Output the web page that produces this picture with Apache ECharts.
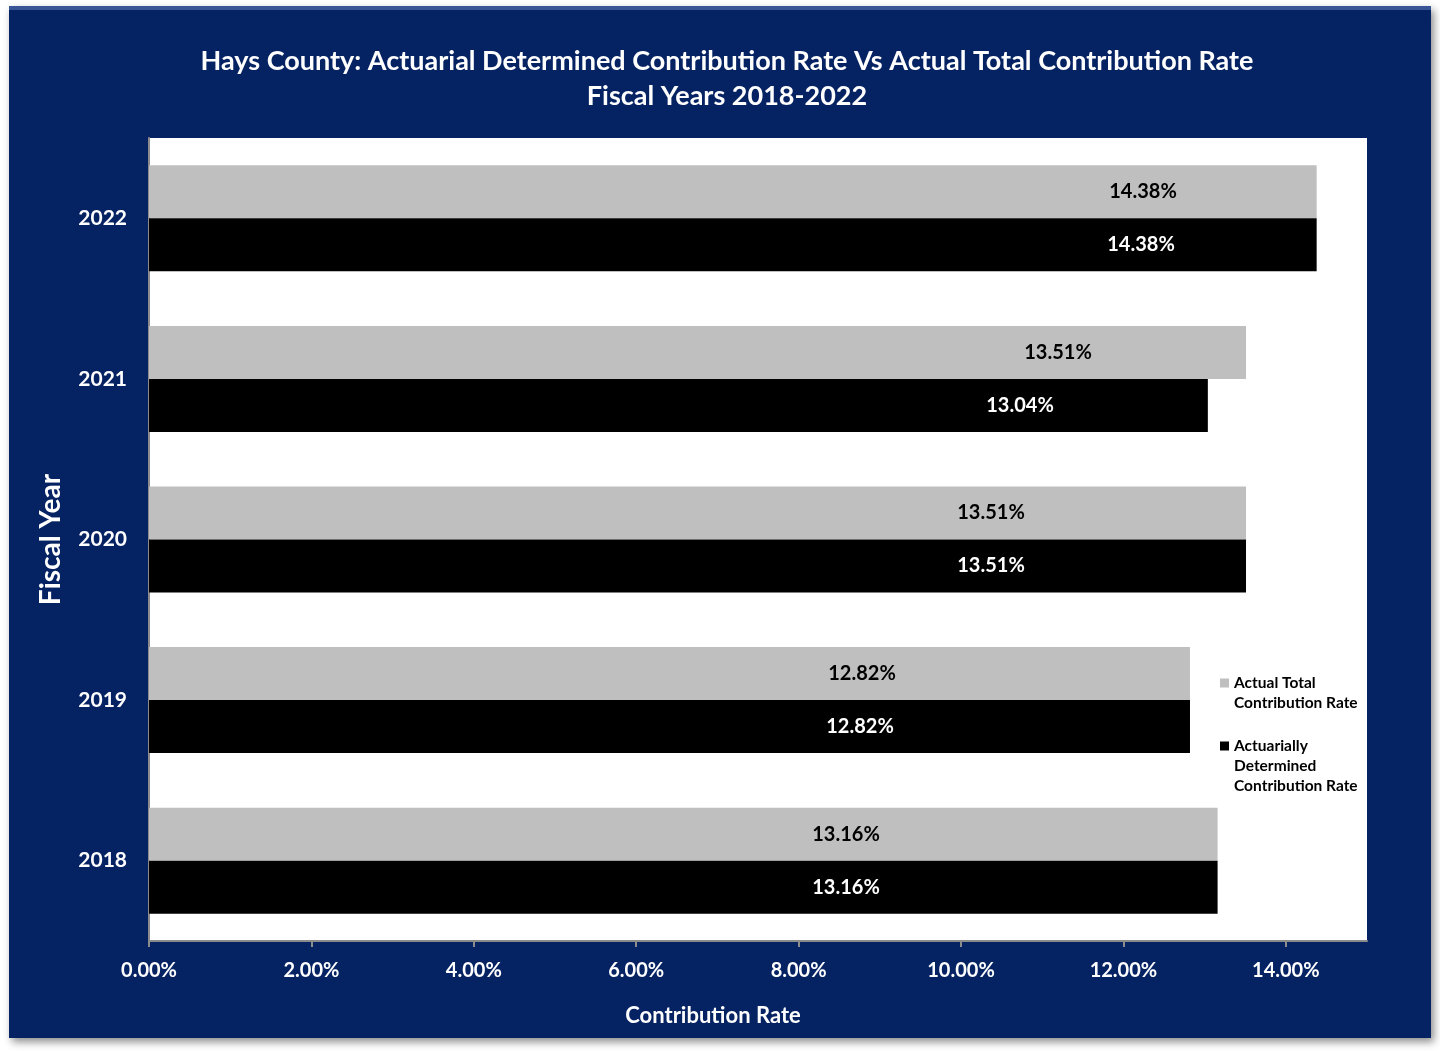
<!DOCTYPE html>
<html>
<head>
<meta charset="utf-8">
<title>Hays County contribution rates</title>
<script src="https://cdn.jsdelivr.net/npm/echarts@6/dist/echarts.min.js"></script>
<style>
  html, body { margin: 0; padding: 0; background: #ffffff; }
  #chart { width: 1440px; height: 1051px; }
</style>
</head>
<body>
<div id="chart"></div>
<script>
// fiscal years, bottom to top
var years = ['2018', '2019', '2020', '2021', '2022'];
// Actual Total Contribution Rate (%)
var actualTotal = [13.16, 12.82, 13.51, 13.51, 14.38];
// Actuarially Determined Contribution Rate (%)
var actuarial = [13.16, 12.82, 13.51, 13.04, 14.38];
var xTicks = [0, 2, 4, 6, 8, 10, 12, 14];

// label spots inside the bars (px from bar start), as placed in the original
var grayLabelAt = [697, 713, 842, 909, 994];
var blackLabelAt = [697, 711, 842, 871, 992];

var font = 'Lato, "Open Sans", sans-serif';
var navy = '#052262';

var grayName = 'Actual Total\nContribution Rate';
var blackName = 'Actuarially\nDetermined\nContribution Rate';

function barData(values, spots, textColor) {
  return values.map(function (v, i) {
    return {
      value: v,
      label: {
        show: true,
        position: [spots[i], '50%'],
        align: 'center',
        verticalAlign: 'middle',
        color: textColor,
        fontFamily: font,
        fontWeight: 'bold',
        fontSize: 20,
        formatter: function (p) { return p.value.toFixed(2) + '%'; }
      }
    };
  });
}

var chart = echarts.init(document.getElementById('chart'));

chart.setOption({
  backgroundColor: '#ffffff',
  animation: false,
  graphic: [{
    type: 'rect',
    z: -10,
    shape: { x: 9, y: 6, width: 1422, height: 1032 },
    style: {
      fill: navy,
      shadowBlur: 8,
      shadowOffsetX: 3,
      shadowOffsetY: 4,
      shadowColor: 'rgba(0,0,0,0.45)'
    }
  }, {
    type: 'rect',
    z: -9,
    shape: { x: 9, y: 6, width: 1422, height: 4 },
    style: { fill: '#3a5596' }
  }],
  title: {
    text: 'Hays County: Actuarial Determined Contribution Rate Vs Actual Total Contribution Rate\nFiscal Years 2018-2022',
    left: 722,
    textAlign: 'center',
    top: 39,
    textStyle: {
      color: '#ffffff',
      fontFamily: font,
      fontWeight: 'bold',
      fontSize: 27,
      lineHeight: 35
    }
  },
  legend: {
    orient: 'vertical',
    left: 1215,
    top: 668,
    itemWidth: 9,
    itemHeight: 60,
    itemGap: 23,
    symbolKeepAspect: true,
    data: [
      { name: grayName, icon: 'path://M0,0H9V9H0Z M0,29L0.01,29' },
      { name: blackName, icon: 'path://M0,0H9V9H0Z M0,49L0.01,49' }
    ],
    textStyle: {
      color: '#000000',
      fontFamily: font,
      fontWeight: 'bold',
      fontSize: 15.5,
      lineHeight: 20
    }
  },
  grid: {
    left: 149,
    right: 73,
    top: 138,
    bottom: 110,
    show: true,
    backgroundColor: '#ffffff',
    borderWidth: 0
  },
  xAxis: {
    type: 'value',
    min: xTicks[0],
    max: 15,
    interval: 2,
    name: 'Contribution Rate',
    nameLocation: 'middle',
    nameGap: 64,
    nameTextStyle: {
      color: '#ffffff', fontFamily: font, fontWeight: 'bold', fontSize: 22,
      padding: [0, 90, 0, 0]
    },
    splitLine: { show: false },
    axisLine: { show: true, lineStyle: { color: '#8c8c8c', width: 2 } },
    axisTick: { show: true, length: 6, lineStyle: { color: '#8c8c8c', width: 2 } },
    axisLabel: {
      color: '#ffffff',
      fontFamily: font,
      fontWeight: 'bold',
      fontSize: 20,
      margin: 20,
      showMaxLabel: false,
      formatter: function (v) { return xTicks.indexOf(v) >= 0 ? v.toFixed(2) + '%' : ''; }
    }
  },
  yAxis: {
    type: 'category',
    data: years,
    name: 'Fiscal Year',
    nameLocation: 'middle',
    nameGap: 84,
    nameTextStyle: { color: '#ffffff', fontFamily: font, fontWeight: 'bold', fontSize: 28 },
    axisLine: { show: true, lineStyle: { color: '#8c8c8c', width: 2 } },
    axisTick: { show: false },
    axisLabel: {
      color: '#ffffff',
      fontFamily: font,
      fontWeight: 'bold',
      fontSize: 21,
      margin: 22
    }
  },
  series: [{
    name: grayName,
    type: 'bar',
    barGap: '0%',
    barCategoryGap: '34%',
    itemStyle: { color: '#bfbfbf' },
    data: barData(actualTotal, grayLabelAt, '#000000')
  }, {
    name: blackName,
    type: 'bar',
    barGap: '0%',
    barCategoryGap: '34%',
    itemStyle: { color: '#000000' },
    data: barData(actuarial, blackLabelAt, '#ffffff')
  }]
});
</script>
</body>
</html>
